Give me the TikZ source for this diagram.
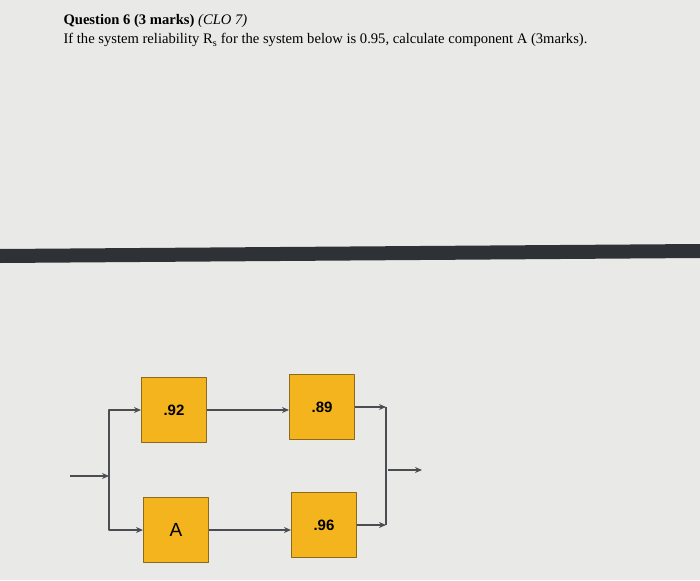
\documentclass[tikz,border=0pt]{standalone}
\usepackage{fontspec}
\setmainfont{Liberation Serif}
\setsansfont{Liberation Sans}
\usetikzlibrary{arrows.meta}
\definecolor{paper}{HTML}{E9E9E7}
\definecolor{bar}{HTML}{2E3236}
\definecolor{boxfill}{HTML}{F4B41E}
\definecolor{boxedge}{HTML}{8C6A1C}
\definecolor{wire}{HTML}{4A4E52}
\tikzset{
  unit/.style={draw=boxedge, fill=boxfill, line width=1pt, minimum width=65pt, minimum height=65pt, inner sep=0pt, font=\sffamily\bfseries\fontsize{15}{15}\selectfont},
  wire/.style={draw=wire, line width=1.2pt}
}
\begin{document}
\begin{tikzpicture}[x=1pt, y=-1pt, line join=round, >={Stealth[length=7pt, width=6pt]}]
	\fill[paper] (0,0) rectangle (700,580);
	\useasboundingbox (0,0) rectangle (700,580);
	\node[anchor=base west, font=\fontsize{14.6}{16}\selectfont] (title) at (60,25) {\textbf{Question 6 (3 marks)} \textit{(CLO 7)}};
	\node[anchor=base west, font=\fontsize{14.6}{16}\selectfont] (task) at (60,44) {If the system reliability R\textsubscript{s} for the system below is 0.95, calculate component A (3marks).};
	\fill[bar] (0,249) -- (700,244) -- (700,258) -- (0,263) -- cycle;
	% blocks
	\node[unit] (r92) at (174,410) {.92};
	\node[unit] (r89) at (322,407) {.89};
	\node[unit, font=\sffamily\fontsize{19}{19}\selectfont] (ra) at (176,530) {A};
	\node[unit] (r96) at (324,525) {.96};
	% junctions
	\coordinate (in) at (70,476);
	\coordinate (split) at (109,476);
	\coordinate (join) at (386,470);
	\coordinate (out) at (422,470);
	\draw[wire, ->] (in) -- (split);
	\draw[wire, ->] (split) |- (r92.west);
	\draw[wire, ->] (split) |- (ra.west);
	\draw[wire, ->] (r92.east) -- (r89.west |- r92.east);
	\draw[wire, ->] (ra.east) -- (r96.west |- ra.east);
	\draw[wire, ->] (r89.east) -- (join |- r89.east);
	\draw[wire, ->] (r96.east) -- (join |- r96.east);
	\draw[wire] (join |- r89.east) -- (join |- r96.east);
	\draw[wire, ->] ([xshift=2pt]join) -- (out);
\end{tikzpicture}
\end{document}
